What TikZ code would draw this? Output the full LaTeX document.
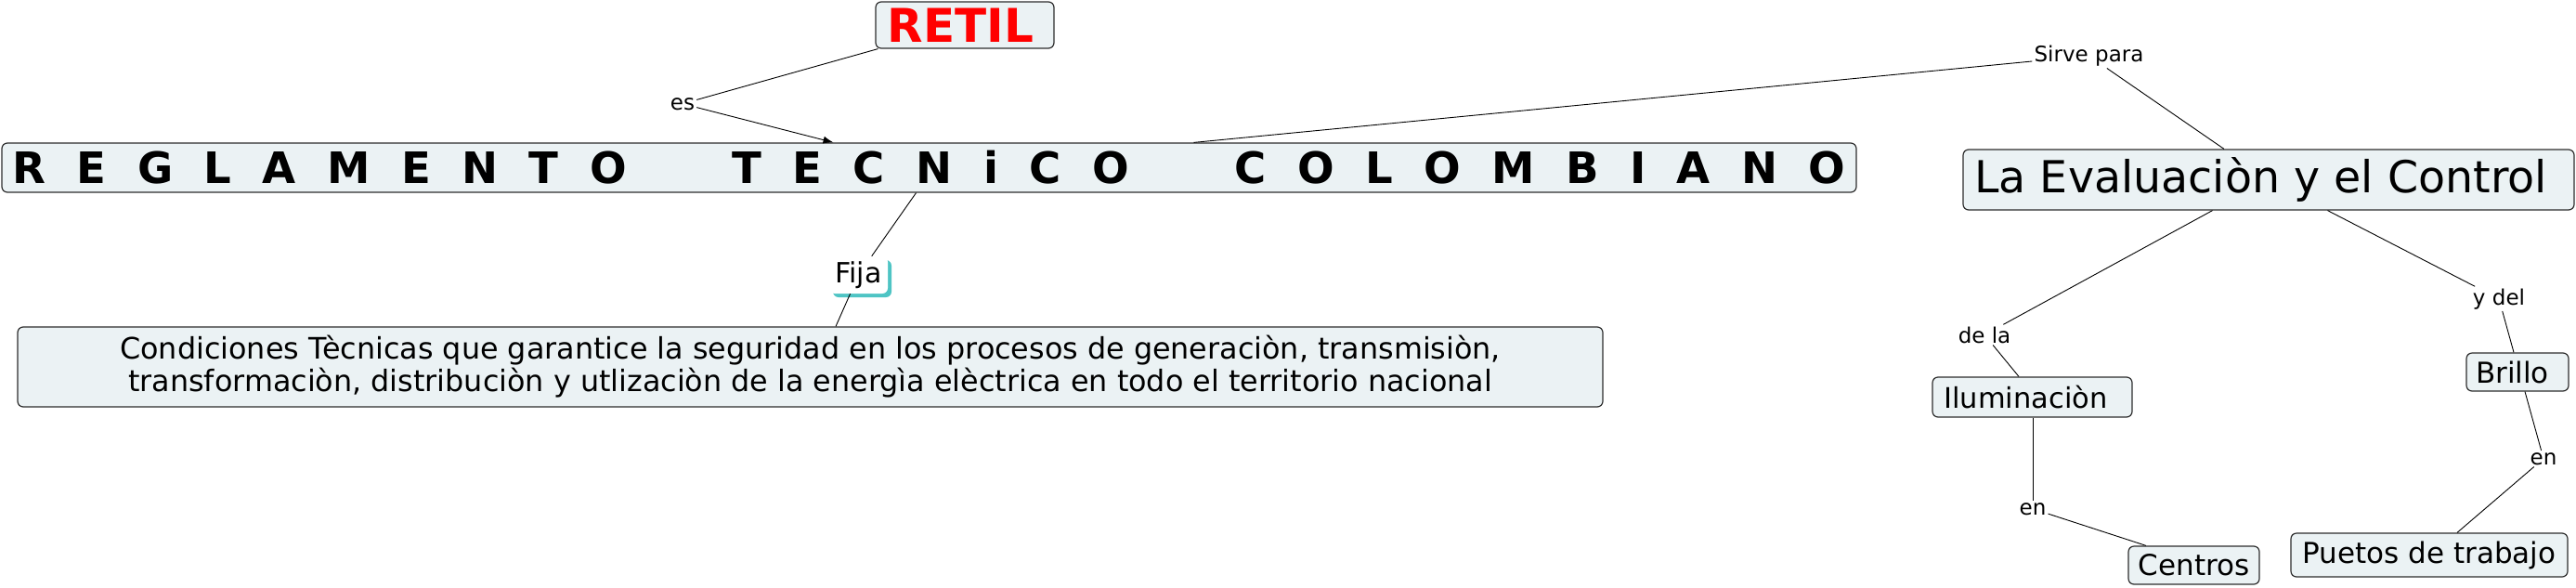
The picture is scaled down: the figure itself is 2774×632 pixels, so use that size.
\documentclass[tikz,border=0pt]{standalone}
\usepackage{fontspec}
\setmainfont{DejaVu Sans}
\usetikzlibrary{arrows.meta,shadows}
\definecolor{cmapfill}{RGB}{235,242,244}
\definecolor{cmapline}{RGB}{45,45,45}
\definecolor{fijateal}{RGB}{78,196,196}

\begin{document}
\begin{tikzpicture}[x=1pt,y=-1pt,
  concept/.style={draw=cmapline, fill=cmapfill, rounded corners=6pt, line width=1.2pt, inner sep=0pt, align=center},
  linkword/.style={inner sep=2pt, anchor=base, font=\fontsize{23}{27}\selectfont},
  link/.style={line width=0.9pt}]
  \useasboundingbox (0,0) rectangle (2774,632);
  \node[concept, minimum width=192pt, minimum height=50pt, text=red, font=\fontsize{50}{54}\selectfont\bfseries] (retil) at (1039,27) {RETIL\hspace{9pt}};
  \node[concept, minimum width=1997pt, minimum height=53pt, font=\fontsize{46.6}{50}\selectfont\bfseries] (reg) at (1000.5,180.5) {\makebox[1974pt][s]{R\hfill E\hfill G\hfill L\hfill A\hfill M\hfill E\hfill N\hfill T\hfill O\hspace{0pt plus 3.4fill}T\hfill E\hfill C\hfill N\hfill i\hfill C\hfill O\hspace{0pt plus 3.4fill}C\hfill O\hfill L\hfill O\hfill M\hfill B\hfill I\hfill A\hfill N\hfill O}};
  \node[concept, minimum width=658pt, minimum height=65pt, font=\fontsize{47.5}{52}\selectfont] (eval) at (2443,193.5) {La Evaluaciòn y el Control\hspace{17pt}};
  \node[concept, minimum width=1707pt, minimum height=86pt, font=\fontsize{31.8}{35}\selectfont] (cond) at (872.5,395) {Condiciones Tècnicas que garantice la seguridad en los procesos de generaciòn, transmisiòn,\\transformaciòn, distribuciòn y utlizaciòn de la energìa elèctrica en todo el territorio nacional};
  \node[concept, minimum width=215pt, minimum height=43pt, font=\fontsize{30.5}{35}\selectfont] (ilum) at (2188.5,427.5) {Iluminaciòn\hspace{14pt}};
  \node[concept, minimum width=141pt, minimum height=41pt, font=\fontsize{31}{35}\selectfont] (centros) at (2362.5,608.5) {Centros};
  \node[concept, minimum width=110pt, minimum height=41pt, font=\fontsize{31}{35}\selectfont] (brillo) at (2711,400.5) {Brillo\hspace{11pt}};
  \node[concept, minimum width=298pt, minimum height=47pt, font=\fontsize{31}{35}\selectfont] (puestos) at (2616,597.5) {Puetos de trabajo};
  \node[fill=white, rounded corners=6pt, inner sep=0pt, minimum width=63pt, minimum height=40pt, font=\fontsize{30}{34}\selectfont,
    drop shadow={shadow xshift=4pt, shadow yshift=-4pt, fill=fijateal, opacity=1}] (fija) at (924.5,296) {Fija};
  \node[linkword] (es) at (735,118) {es};
  \node[linkword] (sirve) at (2249.5,66.5) {Sirve para};
  \node[linkword] (dela) at (2137,369) {de la};
  \node[linkword] (ydel) at (2691,328) {y del};
  \node[linkword] (enA) at (2189,554) {en};
  \node[linkword] (enB) at (2739,500) {en};
  \draw[link] ([xshift=3pt]retil.south west) -- (es);
  \draw[link, -{Latex[length=11pt,width=8pt]}] (es) -- ([xshift=-103pt]reg.north);
  \draw[link] ([xshift=285pt]reg.north) -- (sirve);
  \draw[link] (sirve) -- ([xshift=-48pt]eval.north);
  \draw[link] ([xshift=-14pt]reg.south) -- (fija);
  \draw[link] (fija) -- ([xshift=27.5pt]cond.north);
  \draw[link] ([xshift=-60.5pt]eval.south) -- (dela);
  \draw[link] (dela) -- ([xshift=-14.5pt]ilum.north);
  \draw[link] ([xshift=0.5pt]ilum.south) -- (enA);
  \draw[link] (enA) -- ([xshift=-51.5pt]centros.north);
  \draw[link] ([xshift=63.5pt]eval.south) -- (ydel);
  \draw[link] (ydel) -- ([xshift=-4pt]brillo.north);
  \draw[link] ([xshift=8pt]brillo.south) -- (enB);
  \draw[link] (enB) -- ([xshift=30pt]puestos.north);
\end{tikzpicture}
\end{document}
